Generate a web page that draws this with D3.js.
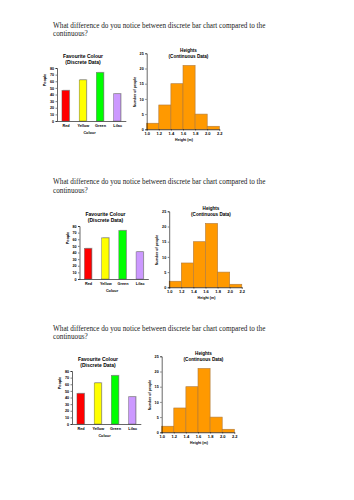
<!DOCTYPE html>
<html lang="en">
  <head>
    <meta charset="utf-8">
    <title>Discrete vs continuous</title>
    <style>
      body { margin: 0; background: #fff; }
      svg { display: block; }
    </style>
  </head>
  <body>
    <svg width="354" height="500"></svg>
  </body>
  <script src="https://cdn.jsdelivr.net/npm/d3@7"></script>
  <script type="text/javascript">

    // data
    const question = ["What difference do you notice between discrete bar chart compared to the", "continuous?"]
    const colours = ["Red", "Yellow", "Green", "Lilac"]
    const people = [46, 62, 73, 41]
    const colourFills = ["#ff0000", "#ffff00", "#00ff00", "#cc99ff"]
    const peopleTicks = [0, 10, 20, 30, 40, 50, 60, 70, 80]
    const heightEdges = [1.0, 1.2, 1.4, 1.6, 1.8, 2.0, 2.2]
    const heightCounts = [2, 8, 15, 21, 5, 1]
    const countTicks = [0, 5, 10, 15, 20, 25]

    // the same worksheet block repeats three times, slightly shifted
    const panels = [
      {text: 0, chart: [0, 0]},
      {text: 156.7, chart: [22.5, 158]},
      {text: 303.3, chart: [15, 303]}
    ]

    const svg = d3.select("svg"),
          sans = "'Liberation Sans', Arial, sans-serif",
          serif = "'Liberation Serif', 'Times New Roman', serif"

    const xc = d3.scalePoint().domain(colours).range([57, 125.8]).padding(0.5),
          yc = d3.scaleLinear().domain([0, 80]).range([121, 68]),
          xh = d3.scaleLinear().domain([1.0, 2.2]).range([146.7, 219.3]),
          yh = d3.scaleLinear().domain([0, 25]).range([129.3, 53.3])

    function label(g, txt, x, y, size, opts = {}) {
      const t = g.append("text")
        .text(txt)
        .attr("x", x).attr("y", y)
        .attr("text-anchor", opts.anchor || "middle")
        .attr("dominant-baseline", "central")
        .style("font-family", sans)
        .style("font-weight", 700)
        .style("font-size", size + "px")
      if (opts.rotate) t.attr("transform", `rotate(-90,${x},${y})`)
      return t
    }

    function styleAxis(a) {
      a.select(".domain").attr("stroke", "#000").attr("stroke-width", 0.6)
      a.selectAll(".tick line").attr("stroke", "#000").attr("stroke-width", 0.5)
      a.selectAll(".tick text")
        .style("font-family", sans).style("font-weight", 700).style("font-size", "3.7px")
    }

    panels.forEach(p => {
      // question text
      const q = svg.append("g").attr("transform", `translate(0,${p.text})`)
      question.forEach((line, i) => {
        q.append("text")
          .text(line)
          .attr("x", 53).attr("y", 27.6 + i * 8.4)
          .style("font-family", serif)
          .style("font-size", "7.2px")
          .style("fill", "#1a1a1a")
      })

      const g = svg.append("g").attr("transform", `translate(${p.chart[0]},${p.chart[1]})`)

      // discrete bar chart
      label(g, "Favourite Colour", 83, 55.8, 5)
      label(g, "(Discrete Data)", 83, 62.2, 5)

      const bw = 7.3
      g.selectAll(".shadow").data(people).enter().append("rect")
        .attr("x", (d, i) => xc(colours[i]) - bw / 2 + 0.8)
        .attr("y", d => yc(d) - 0.8)
        .attr("width", bw)
        .attr("height", d => yc(0) - yc(d) + 0.8)
        .attr("fill", "#c8c8c8")
      g.selectAll(".bar").data(people).enter().append("rect")
        .attr("x", (d, i) => xc(colours[i]) - bw / 2)
        .attr("y", d => yc(d))
        .attr("width", bw)
        .attr("height", d => yc(0) - yc(d))
        .attr("fill", (d, i) => colourFills[i])
        .attr("stroke", "#555")
        .attr("stroke-width", 0.4)

      const ya = g.append("g").attr("transform", `translate(${xc.range()[0]},0)`)
        .call(d3.axisLeft(yc).tickValues(peopleTicks).tickSize(1.5).tickPadding(1.5))
      styleAxis(ya)
      const xa = g.append("g").attr("transform", `translate(0,${yc(0)})`)
        .call(d3.axisBottom(xc).tickSize(0).tickPadding(3.2))
      styleAxis(xa)
      xa.selectAll(".tick text").style("font-size", "3.8px")
      label(g, "People", 45, 80, 3.8, {rotate: true})
      label(g, "Colour", 89.5, 133.2, 3.8)

      // histogram
      label(g, "Heights", 188.5, 50.7, 4.6)
      label(g, "(Continuous Data)", 188.5, 56.8, 4.6)

      g.selectAll(".hbar").data(heightCounts).enter().append("rect")
        .attr("x", (d, i) => xh(heightEdges[i]))
        .attr("y", d => yh(d))
        .attr("width", (d, i) => xh(heightEdges[i + 1]) - xh(heightEdges[i]))
        .attr("height", d => yh(0) - yh(d))
        .attr("fill", "#ff9900")
        .attr("stroke", "#b07a3c")
        .attr("stroke-width", 0.6)

      const hy = g.append("g").attr("transform", `translate(${xh(1.0)},0)`)
        .call(d3.axisLeft(yh).tickValues(countTicks).tickSize(1.5).tickPadding(1.5))
      styleAxis(hy)
      const hx = g.append("g").attr("transform", `translate(0,${yh(0)})`)
        .call(d3.axisBottom(xh).tickValues(heightEdges).tickFormat(d3.format(".1f")).tickSize(1.2).tickPadding(1.6))
      styleAxis(hx)
      hx.selectAll(".tick text").style("font-size", "4px")
      label(g, "Number of people", 134.8, 92, 3.6, {rotate: true})
      label(g, "Height (m)", 184, 140, 3.6)
    })

  </script>
</html>
